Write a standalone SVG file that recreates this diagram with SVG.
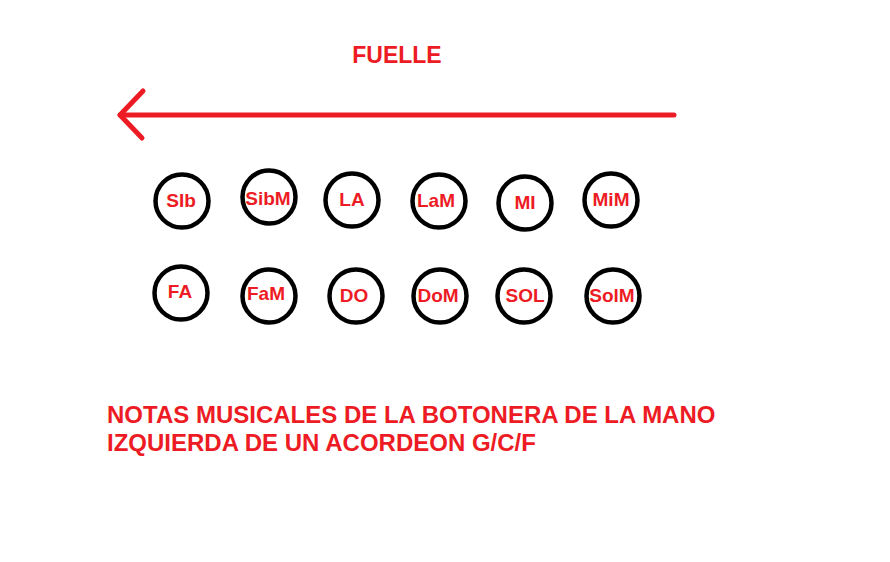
<svg xmlns="http://www.w3.org/2000/svg" width="890" height="562" viewBox="0 0 890 562">
<style>
.bg{fill:#ffffff}
.btn{fill:#ffffff;stroke:#000000;stroke-width:4.5}
.lbl{font-family:"Liberation Sans",Arial,sans-serif;font-weight:bold;font-size:19px;fill:#ed1c24;text-anchor:middle}
.title{font-family:"Liberation Sans",Arial,sans-serif;font-weight:bold;font-size:23px;fill:#ed1c24}
.cap{font-family:"Liberation Sans",Arial,sans-serif;font-weight:bold;font-size:24px;fill:#ed1c24}
.arr{fill:none;stroke:#ed1c24;stroke-width:5;stroke-linecap:round;stroke-linejoin:round}
</style>
<rect class="bg" x="0" y="0" width="890" height="562"/>
<text id="fuelle" class="title" x="397" y="63" text-anchor="middle">FUELLE</text>
<g id="connectors">
<path class="arr" d="M674 115 L120 115"/>
<path class="arr" d="M143 91 L120 115 L142 138"/>
</g>
<g id="n-sib"><circle class="btn" cx="182" cy="201" r="26.5"/><text class="lbl" x="181" y="207">SIb</text></g>
<g id="n-sibm"><circle class="btn" cx="269" cy="197" r="26.5"/><text class="lbl" x="268" y="205">SibM</text></g>
<g id="n-la"><circle class="btn" cx="352" cy="200" r="26.5"/><text class="lbl" x="352" y="206">LA</text></g>
<g id="n-lam"><circle class="btn" cx="439" cy="201" r="26.5"/><text class="lbl" x="436" y="207">LaM</text></g>
<g id="n-mi"><circle class="btn" cx="525" cy="203" r="26.5"/><text class="lbl" x="525" y="209">MI</text></g>
<g id="n-mim"><circle class="btn" cx="611" cy="200" r="26.5"/><text class="lbl" x="611" y="206">MiM</text></g>
<g id="n-fa"><circle class="btn" cx="181" cy="293" r="26.5"/><text class="lbl" x="180" y="298">FA</text></g>
<g id="n-fam"><circle class="btn" cx="269" cy="296" r="26.5"/><text class="lbl" x="266" y="300">FaM</text></g>
<g id="n-do"><circle class="btn" cx="356" cy="296" r="26.5"/><text class="lbl" x="354" y="302">DO</text></g>
<g id="n-dom"><circle class="btn" cx="440" cy="296" r="26.5"/><text class="lbl" x="438" y="302">DoM</text></g>
<g id="n-sol"><circle class="btn" cx="524" cy="296" r="26.5"/><text class="lbl" x="525" y="302">SOL</text></g>
<g id="n-solm"><circle class="btn" cx="613" cy="296" r="26.5"/><text class="lbl" x="612" y="302">SolM</text></g>
<text id="caption" class="cap" x="107" y="423">NOTAS MUSICALES DE LA BOTONERA DE LA MANO<tspan x="107" y="451">IZQUIERDA DE UN ACORDEON G/C/F</tspan></text>
</svg>
